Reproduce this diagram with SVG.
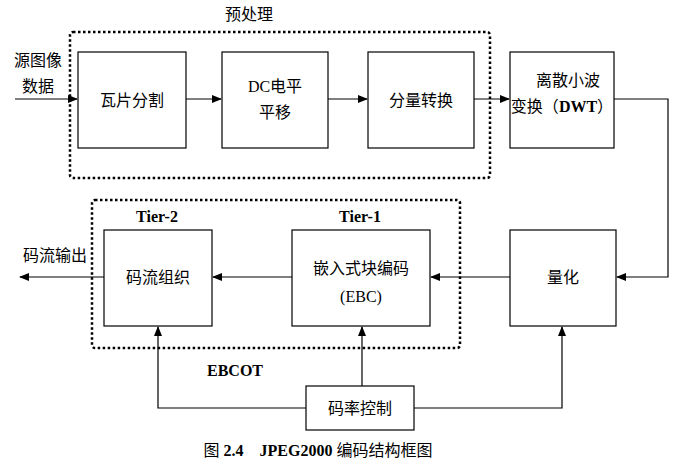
<svg xmlns="http://www.w3.org/2000/svg" width="687" height="463" viewBox="0 0 687 463">
<defs>
<marker id="a" markerWidth="10" markerHeight="8" refX="9" refY="4" orient="auto" markerUnits="userSpaceOnUse"><path d="M0,0 L10,4 L0,8 Z" fill="#000"/></marker>
<style>
.b{fill:#fff;stroke:#000;stroke-width:1.2}
.d{fill:none;stroke:#000;stroke-width:2.5;stroke-dasharray:2.5 2.5}
.c{fill:none;stroke:#000;stroke-width:1.2}
text{font-family:"Liberation Serif","Noto Sans CJK SC",serif;font-size:16px;fill:#000;text-anchor:middle}
</style>
</defs>
<rect width="687" height="463" fill="#fff"/>
<rect class="d" x="70" y="32" width="420" height="146" rx="3"/>
<rect class="d" x="92" y="200" width="368" height="148" rx="3"/>
<text x="249" y="20">预处理</text>
<text x="38" y="66">源图像</text>
<text x="38" y="92">数据</text>
<text x="55" y="261">码流输出</text>
<text x="157" y="222" font-weight="bold" font-size="15">Tier-2</text>
<text x="360" y="222" font-weight="bold" font-size="15">Tier-1</text>
<text x="235" y="376" font-weight="bold" font-size="15">EBCOT</text>
<text x="318" y="456" font-size="15" xml:space="preserve">图 <tspan font-weight="bold">2.4    JPEG2000</tspan> 编码结构框图</text>
<g id="n1"><rect class="b" x="78" y="52" width="108" height="96"/><text x="132" y="106">瓦片分割</text></g>
<g id="n2"><rect class="b" x="222" y="52" width="106" height="96"/><text x="275" y="92">DC电平</text><text x="275" y="118">平移</text></g>
<g id="n3"><rect class="b" x="368" y="52" width="106" height="96"/><text x="421" y="106">分量转换</text></g>
<g id="n4"><rect class="b" x="510" y="52" width="104" height="96"/><text x="568" y="86">离散小波</text><text x="562" y="112">变换（<tspan font-weight="bold">DWT</tspan>）</text></g>
<g id="n5"><rect class="b" x="510" y="230" width="106" height="96"/><text x="563" y="283">量化</text></g>
<g id="n6"><rect class="b" x="292" y="230" width="138" height="96"/><text x="361" y="274">嵌入式块编码</text><text x="361" y="302">(EBC)</text></g>
<g id="n7"><rect class="b" x="104" y="230" width="108" height="96"/><text x="158" y="283">码流组织</text></g>
<g id="n8"><rect class="b" x="306" y="386" width="108" height="44"/><text x="360" y="414">码率控制</text></g>
<g id="edges">
<path class="c" d="M15,99 H77" marker-end="url(#a)"/>
<path class="c" d="M186,99 H221" marker-end="url(#a)"/>
<path class="c" d="M328,99 H367" marker-end="url(#a)"/>
<path class="c" d="M474,99 H509" marker-end="url(#a)"/>
<path class="c" d="M614,99 H668 V277 H617" marker-end="url(#a)"/>
<path class="c" d="M510,277 H431" marker-end="url(#a)"/>
<path class="c" d="M292,277 H213" marker-end="url(#a)"/>
<path class="c" d="M104,277 H20" marker-end="url(#a)"/>
<path class="c" d="M306,408 H158 V327" marker-end="url(#a)"/>
<path class="c" d="M362,386 V327" marker-end="url(#a)"/>
<path class="c" d="M414,408 H562 V327" marker-end="url(#a)"/>
</g>
</svg>
